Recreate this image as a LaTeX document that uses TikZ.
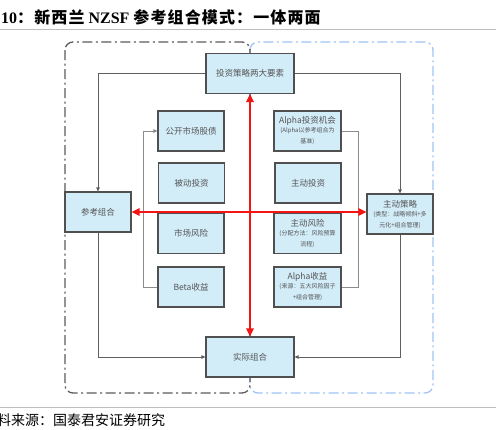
\documentclass[tikz,border=0pt]{standalone}
\usepackage{fontspec}
\setmainfont{Liberation Serif}
\newfontfamily\cjk{Noto Sans CJK SC}
\newfontfamily\cjkwide{Noto Sans CJK SC}[LetterSpace=7]
\usetikzlibrary{arrows.meta}
\definecolor{boxfill}{RGB}{210,236,248}
\definecolor{boxdraw}{RGB}{80,80,80}
\definecolor{txt}{RGB}{85,85,85}
\definecolor{frameblue}{RGB}{160,196,245}
\definecolor{framedark}{RGB}{90,90,90}
\definecolor{connc}{RGB}{95,95,95}
\definecolor{bracketc}{RGB}{140,140,140}
\definecolor{rulec}{RGB}{190,190,190}
\definecolor{redc}{RGB}{245,20,20}
\tikzset{
  box/.style={draw=boxdraw, fill=boxfill, line width=1.1pt, minimum width=66pt, minimum height=40pt,
    inner sep=0pt, align=center, font=\cjk\fontsize{8.5}{11}\selectfont, text=txt},
  widebox/.style={box, minimum width=88pt},
  frameline/.style={line width=1.3pt, dash pattern=on 10pt off 3.5pt on 2pt off 3.5pt, rounded corners=8pt},
  conn/.style={draw=connc, line width=0.8pt, -{Triangle[length=4pt,width=3.5pt]}},
  bracket/.style={draw=bracketc, line width=0.9pt},
  redarrow/.style={draw=redc, line width=1.6pt, {Triangle[length=8pt,width=7.5pt]}-{Triangle[length=8pt,width=7.5pt]}}
}
\newcommand{\smallsub}{\fontsize{6}{9.5}\selectfont}
\begin{document}
\begin{tikzpicture}[x=1pt,y=-1pt]
\useasboundingbox (0,0) rectangle (496,429);
% title and source
\node[anchor=west, inner sep=0pt] (title) at (1,17) {\fontsize{16}{18}\selectfont\bfseries 10{\cjkwide ：新西兰} NZSF {\cjkwide 参考组合模式：一体两面}};
\draw[rulec, line width=1.5pt] (0,29.5) -- (496,29.5);
\draw[rulec, line width=1.5pt] (0,407.5) -- (496,407.5);
\node[anchor=west, inner sep=0pt] (src) at (-3,420) {\cjk\fontsize{14}{16}\selectfont 料来源：国泰君安证券研究};
% frames
\draw[frameline, frameblue] (250,42) rectangle (433,393);
\draw[frameline, framedark] (65,42) rectangle (250,393);
% boxes
\node[widebox] (inv) at (250,73.5) {投资策略两大要素};
\node[widebox] (act) at (250,357) {实际组合};
\node[box] (ref) at (98,212) {参考组合};
\node[box] (pub) at (191,131) {公开市场股债};
\node[box] (pas) at (191.5,183) {被动投资};
\node[box] (mkt) at (191,233.5) {市场风险};
\node[box] (beta) at (191,287) {Beta收益};
\node[box, minimum width=67pt] (alo) at (307.5,131) {Alpha投资机会\\[-2pt] \smallsub (Alpha以参考组合为\\ \smallsub 基准)};
\node[box] (aiv) at (308,183) {主动投资};
\node[box, minimum width=67pt] (ark) at (307.5,233.5) {主动风险\\[-2pt] \smallsub (分配方法：风险预算\\ \smallsub 流程)};
\node[box, minimum width=67pt] (alr) at (307.5,287) {Alpha收益\\[-2pt] \smallsub (来源：五大风险因子\\ \smallsub +组合管理)};
\node[box] (ast) at (400,214) {主动策略\\[-2pt] \smallsub (类型：战略倾斜+多\\ \smallsub 元化+组合管理)};
% connectors
\draw[conn] (inv.west) -| (ref.north);
\draw[conn] (inv.east) -| (ast.north);
\draw[conn] (ref.south) |- (act.west);
\draw[conn] (ast.south) |- (act.east);
\draw[bracket, -{Triangle[length=4pt,width=3.5pt]}] (beta.west) -- ++(-14.5,0) |- (pub.west);
\draw[bracket] (alo.east) -- ++(17,0) |- (alr.east);
% red arrows
\draw[redarrow] (inv.south) -- (act.north);
\draw[redarrow] (ref.east) -- (ref.east -| ast.west);
\end{tikzpicture}
\end{document}
